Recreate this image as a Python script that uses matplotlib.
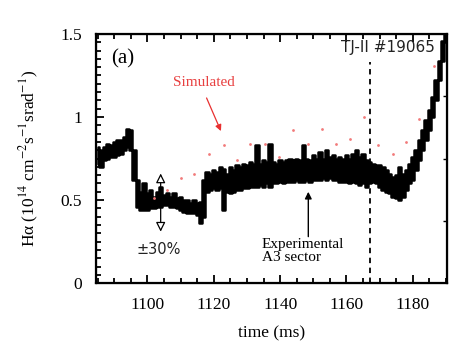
import numpy as np
import matplotlib
matplotlib.use('Agg')
import matplotlib.pyplot as plt
from matplotlib.ticker import MultipleLocator

# Experimental H-alpha trace (A3 sector), envelope of the noisy signal, 1 ms steps
t_exp = np.arange(1085, 1191)
exp_hi = [0.82, 0.80, 0.82, 0.84, 0.83, 0.85, 0.86, 0.86, 0.88, 0.93,
          0.92, 0.80, 0.62, 0.55, 0.60, 0.54, 0.56, 0.52, 0.55, 0.58,
          0.53, 0.54, 0.52, 0.54, 0.51, 0.52, 0.50, 0.50, 0.48, 0.50,
          0.48, 0.49, 0.62, 0.67, 0.66, 0.68, 0.67, 0.70, 0.69, 0.66,
          0.70, 0.68, 0.71, 0.70, 0.72, 0.71, 0.73, 0.72, 0.83, 0.72,
          0.74, 0.73, 0.84, 0.73, 0.72, 0.74, 0.73, 0.74, 0.75, 0.74,
          0.75, 0.74, 0.83, 0.75, 0.74, 0.77, 0.75, 0.79, 0.75, 0.80,
          0.76, 0.77, 0.75, 0.76, 0.75, 0.77, 0.75, 0.78, 0.80, 0.76,
          0.78, 0.74, 0.73, 0.72, 0.71, 0.71, 0.70, 0.68, 0.66, 0.64,
          0.65, 0.70, 0.66, 0.68, 0.72, 0.76, 0.80, 0.86, 0.92, 0.98,
          1.04, 1.12, 1.22, 1.34, 1.46, 1.55]
exp_lo = [0.72, 0.70, 0.74, 0.75, 0.76, 0.76, 0.77, 0.78, 0.80, 0.82,
          0.80, 0.62, 0.46, 0.44, 0.44, 0.44, 0.45, 0.45, 0.46, 0.46,
          0.47, 0.47, 0.46, 0.46, 0.45, 0.44, 0.43, 0.42, 0.42, 0.42,
          0.41, 0.36, 0.40, 0.55, 0.56, 0.57, 0.56, 0.57, 0.44, 0.55,
          0.54, 0.55, 0.56, 0.56, 0.57, 0.57, 0.58, 0.58, 0.58, 0.59,
          0.58, 0.60, 0.58, 0.60, 0.60, 0.61, 0.60, 0.61, 0.61, 0.61,
          0.62, 0.61, 0.61, 0.62, 0.61, 0.62, 0.62, 0.62, 0.63, 0.62,
          0.63, 0.62, 0.62, 0.61, 0.61, 0.61, 0.60, 0.61, 0.60, 0.59,
          0.60, 0.58, 0.60, 0.61, 0.60, 0.58, 0.56, 0.55, 0.54, 0.52,
          0.51, 0.50, 0.52, 0.56, 0.60, 0.62, 0.68, 0.74, 0.80, 0.86,
          0.92, 1.00, 1.10, 1.22, 1.34, 1.45]

# Simulated values (red dots)
t_sim = [1102, 1106, 1110, 1114, 1118.5, 1123, 1127, 1131, 1135.5, 1139.7,
         1144, 1148.5, 1152.7, 1156.7, 1161, 1165.4, 1169.4, 1174, 1178,
         1182, 1186.4]
v_sim = [0.51, 0.56, 0.63, 0.66, 0.78, 0.83, 0.74, 0.84, 0.84, 0.76,
         0.92, 0.84, 0.93, 0.84, 0.87, 1.00, 0.83, 0.78, 0.85, 0.99, 1.31]

t_mark = 1167

plt.rcParams['font.family'] = ['Liberation Serif', 'DejaVu Serif']
plt.rcParams['mathtext.fontset'] = 'stix'

fig = plt.figure(figsize=(4.74, 3.5), dpi=100)
ax = fig.add_axes([0.2025, 0.191, 0.7405, 0.712])

ax.fill_between(t_exp, exp_lo, exp_hi, step='mid', color='black', lw=1.8,
                edgecolor='black')
ax.plot(t_sim, v_sim, ls='none', marker='o', ms=2.0, color='#f27a7a', mec='none')
ax.plot([t_mark, t_mark], [0, 1.33], ls=(0, (3, 2.5)), color='black', lw=1.3)

ax.set_xlim(1084.5, 1190.3)
ax.set_ylim(0, 1.5)
ax.xaxis.set_major_locator(MultipleLocator(20))
ax.xaxis.set_minor_locator(MultipleLocator(5))
ax.yaxis.set_minor_locator(MultipleLocator(0.05))
ax.set_yticks([0, 0.5, 1, 1.5])
ax.set_yticklabels(['0', '0.5', '1', '1.5'])
ax.tick_params(which='both', direction='in', top=True, right=False,
               labelsize=12.5, width=1.3)
ax.tick_params(which='major', length=6)
ax.tick_params(which='minor', length=3.5)
ax.tick_params(axis='x', which='major', pad=10)
ax.tick_params(axis='y', which='major', pad=10)
for s in ax.spines.values():
    s.set_linewidth(1.6)

ax2 = ax.twinx()
ax2.set_ylim(0, 1.5)
ax2.set_yticks([0.375, 0.75, 1.125])
ax2.set_yticklabels([])
ax2.tick_params(direction='in', length=3, width=1)

ax.set_xlabel('time (ms)', fontsize=12.5, labelpad=9)
ax.set_ylabel('Hα (10$^{14}$ cm$^{-2}$s$^{-1}$srad$^{-1}$)',
              fontsize=12.5, labelpad=14)

ax.text(1089.0, 1.32, '(a)', fontsize=15)
ax.text(1186.7, 1.42, 'TJ-II #19065', fontsize=11, family='DejaVu Sans',
        ha='right', va='center', color='#222222')
ax.text(1103.5, 0.2, '±30%', fontsize=10.5, family='DejaVu Sans',
        ha='center', va='center', color='#222222')
ax.text(1117, 1.21, 'Simulated', fontsize=11, color='#e84040',
        ha='center', va='center')
ax.annotate('', xy=(1122.5, 0.9), xytext=(1117.5, 1.13),
            arrowprops=dict(arrowstyle='-|>', color='#e83030', lw=0.9,
                            mutation_scale=9))
ax.annotate('', xy=(1104, 0.66), xytext=(1104, 0.31),
            arrowprops=dict(arrowstyle='<|-|>', fc='white', ec='black', lw=0.9,
                            mutation_scale=14, shrinkA=0, shrinkB=0))
ax.annotate('', xy=(1148.5, 0.55), xytext=(1148.5, 0.28),
            arrowprops=dict(arrowstyle='-|>', color='black', lw=1.0,
                            mutation_scale=10, shrinkA=0, shrinkB=0))
ax.text(1134.5, 0.27, 'Experimental\nA3 sector', fontsize=11, va='top',
        ha='left', linespacing=0.95)

fig.savefig('out.png', dpi=100)
